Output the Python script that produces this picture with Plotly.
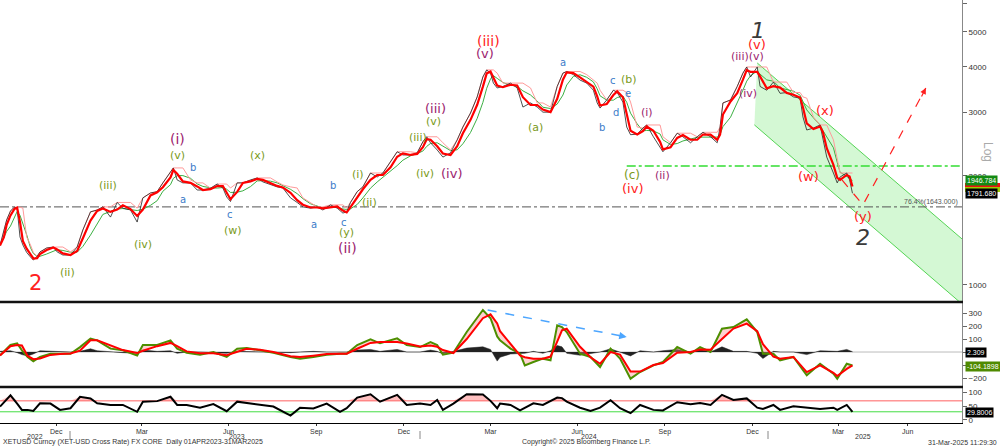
import numpy as np
import pandas as pd
import plotly.graph_objects as go

# ---------------- data ----------------
price_dates = [
    "2022-10-18", "2022-10-22", "2022-10-25", "2022-10-29", "2022-11-02", "2022-11-05", "2022-11-08", "2022-11-11",
    "2022-11-15", "2022-11-19", "2022-11-22", "2022-11-26", "2022-11-29", "2022-12-06", "2022-12-13", "2022-12-17",
    "2022-12-23", "2022-12-31",
    "2023-01-07", "2023-01-13", "2023-01-21", "2023-01-28", "2023-02-03", "2023-02-11", "2023-02-18", "2023-02-24",
    "2023-03-04", "2023-03-11", "2023-03-17", "2023-03-25", "2023-04-01", "2023-04-07", "2023-04-15", "2023-04-18",
    "2023-04-22", "2023-04-28", "2023-05-06", "2023-05-13", "2023-05-19", "2023-05-27", "2023-06-03", "2023-06-09",
    "2023-06-13", "2023-06-17", "2023-06-24", "2023-06-30", "2023-07-08", "2023-07-15", "2023-07-21", "2023-07-29",
    "2023-08-05", "2023-08-11", "2023-08-19", "2023-08-26", "2023-09-01", "2023-09-09", "2023-09-16", "2023-09-22",
    "2023-09-30", "2023-10-07", "2023-10-13", "2023-10-17", "2023-10-21", "2023-10-28", "2023-11-03", "2023-11-11",
    "2023-11-18", "2023-11-24", "2023-12-02", "2023-12-09", "2023-12-15", "2023-12-23", "2023-12-30",
    "2024-01-05", "2024-01-09", "2024-01-13", "2024-01-20", "2024-01-26", "2024-02-03", "2024-02-10", "2024-02-16",
    "2024-02-24", "2024-03-02", "2024-03-08", "2024-03-12", "2024-03-16", "2024-03-19", "2024-03-23", "2024-03-29",
    "2024-04-06", "2024-04-13", "2024-04-19", "2024-04-27", "2024-05-04", "2024-05-10", "2024-05-18", "2024-05-25",
    "2024-05-31", "2024-06-04", "2024-06-11", "2024-06-18", "2024-06-25", "2024-07-02", "2024-07-06", "2024-07-09",
    "2024-07-16", "2024-07-23", "2024-07-27", "2024-08-02", "2024-08-06", "2024-08-10", "2024-08-17", "2024-08-23",
    "2024-08-27", "2024-09-03", "2024-09-10", "2024-09-13", "2024-09-21", "2024-09-28", "2024-10-04", "2024-10-12",
    "2024-10-19", "2024-10-25", "2024-11-02", "2024-11-09", "2024-11-12", "2024-11-15", "2024-11-23", "2024-11-30",
    "2024-12-06", "2024-12-10", "2024-12-14", "2024-12-21", "2024-12-24", "2024-12-31",
    "2025-01-07", "2025-01-14", "2025-01-21", "2025-01-28", "2025-02-04", "2025-02-07", "2025-02-11", "2025-02-18",
    "2025-02-25", "2025-02-28", "2025-03-04", "2025-03-11", "2025-03-15", "2025-03-18", "2025-03-25", "2025-03-28",
    "2025-03-31",
]
price_close = [
    1285, 1420, 1512, 1600, 1640, 1630, 1357, 1290, 1230, 1195, 1172, 1200, 1234, 1265, 1273, 1234, 1210, 1210,
    1273, 1419, 1592, 1611, 1643, 1540, 1690, 1630, 1611, 1492, 1740, 1795, 1810, 1914, 2050, 2105, 1950, 1914,
    1914, 1829, 1829, 1850, 1900, 1853, 1750, 1700, 1914, 1914, 1950, 1975, 1926, 1889, 1866, 1853, 1740, 1690,
    1643, 1630, 1643, 1611, 1664, 1630, 1580, 1592, 1690, 1810, 1866, 2038, 1987, 2038, 2188, 2333, 2286, 2286, 2317,
    2486, 2566, 2470, 2360, 2255, 2317, 2516, 2730, 2985, 3307, 3754, 3926, 3846, 3610, 3500, 3534, 3610, 3500,
    3100, 3182, 3100, 3001, 3001, 3534, 3846, 3886, 3810, 3680, 3610, 3450, 3182, 3080, 3243, 3450, 3400, 3200,
    2730, 2600, 2610, 2712, 2766, 2566, 2404, 2333, 2470, 2625, 2566, 2470, 2566, 2640, 2566, 2470, 2730, 3182,
    3243, 3534, 3846, 4000, 3754, 4000, 3534, 3450,
    3634, 3383, 3400, 3307, 3281, 2910, 2679, 2712, 2766, 2516, 2255, 2038, 1914, 1987, 2038, 1950, 1791.68,
]

ind_dates = [
    "2022-10-18", "2022-10-29", "2022-11-05", "2022-11-10", "2022-11-16", "2022-11-22", "2022-11-29", "2022-12-10",
    "2022-12-20", "2022-12-31",
    "2023-01-10", "2023-01-21", "2023-01-28", "2023-02-11", "2023-02-24", "2023-03-11", "2023-03-17", "2023-04-01",
    "2023-04-15", "2023-04-22", "2023-05-02", "2023-05-16", "2023-05-30", "2023-06-13", "2023-06-24", "2023-07-04",
    "2023-07-18", "2023-08-01", "2023-08-19", "2023-08-29", "2023-09-12", "2023-09-26", "2023-10-10", "2023-10-17",
    "2023-10-28", "2023-11-11", "2023-11-21", "2023-12-09", "2023-12-19",
    "2024-01-02", "2024-01-13", "2024-01-20", "2024-01-26", "2024-02-06", "2024-02-20", "2024-03-08", "2024-03-16",
    "2024-03-23", "2024-03-26", "2024-04-06", "2024-04-16", "2024-04-21", "2024-04-30", "2024-05-10", "2024-05-18",
    "2024-05-25", "2024-05-30", "2024-06-04", "2024-06-18", "2024-06-29", "2024-07-09", "2024-07-20", "2024-07-30",
    "2024-08-10", "2024-08-20", "2024-09-03", "2024-09-13", "2024-09-28", "2024-10-12", "2024-10-22", "2024-11-02",
    "2024-11-14", "2024-11-26", "2024-12-10", "2024-12-21", "2024-12-27",
    "2025-01-07", "2025-01-14", "2025-01-28", "2025-02-11", "2025-02-25", "2025-03-11", "2025-03-15", "2025-03-25",
    "2025-03-31",
]
macd_line = [
    -26, 54, 67, 13, -38, -72, -38, -13, -13, -13,
    38, 103, 90, 26, 13, -26, 54, 54, 90, 26, -5, -21, 0, -38, 26, 31, 13, -5, -38, -51, -38, -21, -13, -13,
    54, 97, 67, 105, 54,
    38, 77, 54, -21, -5, 154, 323, 260, 120, 90, 26, -13, -103, -77, -51, -64, 205, 192, 154, -13, -38, -115,
    26, -51, -205, -154, -103, -77, 38, -13, 38, 0, 179, 192, 251, 154, -13,
    -13, -64, -38, -179, -90, -167, -205, -90, -104.19,
]
macd_signal = [
    -26, 45, 54, 50, -30, -55, -50, -22, -15, -12,
    10, 90, 90, 50, 15, -8, 10, 45, 70, 45, 5, -10, -10, -25, 0, 25, 18, 0, -33, -38, -28, -16, -13, -13,
    25, 70, 77, 77, 65,
    42, 50, 40, 15, -8, 100, 260, 290, 220, 160, 60, -26, -40, -51, -51, -35, 80, 167, 179, 40, -40, -90,
    0, -20, -150, -150, -100, -85, -5, 0, 20, 18, 100, 180, 218, 160, 60,
    -35, -51, -38, -154, -103, -160, -185, -130, -103,
]
macd_hist = [
    5, 10, -5, -20, -30, -15, 10, 5, 0, 0,
    5, 25, 10, 0, -5, -10, 15, 5, 10, -10, 0, 0, -5, -10, 5, 3, 0, 0, -5, 0, 5, 0, 0, 0,
    15, 20, 5, 20, 0,
    0, 15, 5, -15, 5, 30, 40, 20, -70, -40, -15, -10, -10, 5, -10, 10, 50, 40, -10, -25, -10, 0,
    25, 0, -30, 10, 0, 10, 20, 0, 20, 0, 40, 5, 5, -10, -50,
    5, 0, 0, -20, 10, 5, 5, 20, 2.309,
]
rsi_values = [
    49, 90, 60, 37, 37, 33, 61, 60, 37, 43,
    85, 79, 61, 55, 55, 30, 67, 69, 85, 55, 55, 45, 58, 32, 67, 63, 55, 49, 16, 45, 42, 60, 30, 43,
    82, 94, 67, 92, 55,
    60, 55, 73, 37, 60, 94, 93, 70, 43, 60, 55, 35, 45, 61, 55, 70, 82, 80, 67, 45, 33, 45,
    72, 43, 25, 55, 37, 35, 65, 58, 62, 55, 92, 73, 79, 45, 40,
    55, 37, 50, 45, 40, 45, 37, 55, 29.8006,
]

fib_level = 1643.0
support_level = 2130.0
channel_upper_dates = ["2024-12-21", "2025-07-24"]
channel_upper = [4103, 1340]
channel_lower_dates = ["2024-12-18", "2025-07-24"]
channel_lower = [2768, 886]
proj_dates = ["2025-03-20", "2025-04-11", "2025-06-16"]
proj_values = [1950, 1664, 3500]
div_dates = ["2024-03-13", "2024-08-06"]
div_values = [323, 115]

month_tick_dates = ["2022-12-16", "2023-03-16", "2023-06-15", "2023-09-15", "2023-12-16", "2024-03-16",
                    "2024-06-15", "2024-09-15", "2024-12-16", "2025-03-16", "2025-05-28"]
month_tick_labels = ["Dec", "Mar", "Jun", "Sep", "Dec", "Mar", "Jun", "Sep", "Dec", "Mar", "Jun"]
year_labels = ["2022", "2023", "2024", "2025"]

X_START, X_END = "2022-10-18", "2025-07-24"

# ---------------- derived moving averages ----------------
close_s = pd.Series(price_close)
ma_fast = close_s.rolling(2, min_periods=1).mean()
ma_slow = close_s.rolling(4, min_periods=1).mean()
ma_high = close_s.rolling(3, min_periods=1).max()

fig = go.Figure()

# channel
fig.add_trace(go.Scatter(
    x=channel_upper_dates + channel_lower_dates[::-1],
    y=channel_upper + channel_lower[::-1],
    fill="toself", fillcolor="rgba(160,240,160,0.45)", line=dict(width=0),
    mode="lines", hoverinfo="skip", yaxis="y"))
for cx, cy in ((channel_upper_dates, channel_upper), (channel_lower_dates, channel_lower)):
    fig.add_trace(go.Scatter(x=cx, y=cy, mode="lines", line=dict(color="#55d455", width=1), yaxis="y"))

# levels
fig.add_trace(go.Scatter(x=[X_START, X_END], y=[fib_level, fib_level], mode="lines",
                         line=dict(color="#555555", width=1, dash="dashdot"), yaxis="y"))
fig.add_trace(go.Scatter(x=["2024-08-06", X_END], y=[support_level, support_level], mode="lines",
                         line=dict(color="#33dd33", width=1.5, dash="dashdot"), yaxis="y"))

# price and averages
fig.add_trace(go.Scatter(x=price_dates, y=ma_slow, mode="lines", line=dict(color="#3cb043", width=1), yaxis="y"))
fig.add_trace(go.Scatter(x=price_dates, y=ma_high, mode="lines", line=dict(color="#ff9a9a", width=1), yaxis="y"))
fig.add_trace(go.Scatter(x=price_dates, y=price_close, mode="lines", line=dict(color="#222222", width=0.8), yaxis="y"))
fig.add_trace(go.Scatter(x=price_dates, y=ma_fast, mode="lines", line=dict(color="#ff0000", width=2.2), yaxis="y"))

# projection
fig.add_trace(go.Scatter(x=proj_dates, y=proj_values, mode="lines",
                         line=dict(color="#ff2020", width=1.2, dash="dash"), yaxis="y"))

# MACD panel
fig.add_trace(go.Scatter(x=[X_START, X_END], y=[0, 0], mode="lines", line=dict(color="#bbbbbb", width=1), yaxis="y2"))
fig.add_trace(go.Scatter(x=ind_dates, y=macd_hist, mode="lines", fill="tozeroy", fillcolor="#222222",
                         line=dict(color="#222222", width=0.5), yaxis="y2"))
fig.add_trace(go.Scatter(x=ind_dates, y=macd_line, mode="lines", line=dict(color="#4d8f00", width=2), yaxis="y2"))
fig.add_trace(go.Scatter(x=ind_dates, y=macd_signal, mode="lines", fill="tonexty",
                         fillcolor="rgba(255,140,140,0.4)", line=dict(color="#ff0000", width=2), yaxis="y2"))
fig.add_trace(go.Scatter(x=div_dates, y=div_values, mode="lines",
                         line=dict(color="#4da6ff", width=1.5, dash="dash"), yaxis="y2"))

# RSI panel
rsi_arr = np.array(rsi_values, dtype=float)
fig.add_trace(go.Scatter(x=ind_dates, y=[70] * len(ind_dates), mode="lines", line=dict(width=0), yaxis="y3"))
fig.add_trace(go.Scatter(x=ind_dates, y=np.maximum(rsi_arr, 70), mode="lines", fill="tonexty",
                         fillcolor="rgba(255,150,150,0.6)", line=dict(width=0), yaxis="y3"))
fig.add_trace(go.Scatter(x=ind_dates, y=[30] * len(ind_dates), mode="lines", line=dict(width=0), yaxis="y3"))
fig.add_trace(go.Scatter(x=ind_dates, y=np.minimum(rsi_arr, 30), mode="lines", fill="tonexty",
                         fillcolor="rgba(140,230,140,0.6)", line=dict(width=0), yaxis="y3"))
fig.add_trace(go.Scatter(x=[X_START, X_END], y=[70, 70], mode="lines", line=dict(color="#ff6060", width=1), yaxis="y3"))
fig.add_trace(go.Scatter(x=[X_START, X_END], y=[30, 30], mode="lines", line=dict(color="#44dd44", width=1), yaxis="y3"))
fig.add_trace(go.Scatter(x=ind_dates, y=rsi_values, mode="lines", line=dict(color="#000000", width=2), yaxis="y3"))

# ---------------- layout ----------------
W, H = 1000, 446
def px(x):
    return x / W
def py(y):
    return 1 - y / H

tickfont = dict(family="Liberation Sans, Arial", size=8, color="#333333")
fig.update_layout(
    width=W, height=H, margin=dict(l=0, r=0, t=0, b=0, autoexpand=False),
    paper_bgcolor="white", plot_bgcolor="white", showlegend=False,
    xaxis=dict(domain=[0, 0.962], anchor="y3", type="date", range=[X_START, X_END], automargin=False,
               tickmode="array", tickvals=month_tick_dates, ticktext=month_tick_labels,
               ticks="outside", ticklen=2, tickcolor="#333", showgrid=False, zeroline=False,
               showline=True, linecolor="#000", linewidth=1,
               tickfont=dict(family="Liberation Sans, Arial", size=7, color="#333")),
    yaxis=dict(domain=[py(302), 1], anchor="x", type="log", range=[2.953, 3.787], side="right", automargin=False,
               tickmode="array", tickvals=[1000, 2000, 3000, 4000, 5000, 6000],
               ticktext=["1000", "2000", "3000", "4000", "5000", "6000"],
               ticks="outside", ticklen=4, tickcolor="#666", showgrid=False, zeroline=False,
               showline=True, linecolor="#888", tickfont=tickfont),
    yaxis2=dict(domain=[py(387), py(303)], anchor="x", range=[-269, 377], side="right", automargin=False,
                tickmode="array", tickvals=[-200, -100, 0, 100, 200, 300],
                ticks="outside", ticklen=4, tickcolor="#666", showgrid=False, zeroline=False,
                showline=True, linecolor="#888", tickfont=tickfont),
    yaxis3=dict(domain=[py(423), py(388)], anchor="x", range=[-11, 117], side="right", automargin=False,
                tickmode="array", tickvals=[0, 50, 100],
                ticks="outside", ticklen=4, tickcolor="#666", showgrid=False, zeroline=False,
                showline=True, linecolor="#888", tickfont=tickfont),
)

shapes = []
for yy in (302, 387):
    shapes.append(dict(type="line", xref="paper", yref="paper", x0=0, x1=0.963, y0=py(yy), y1=py(yy),
                       line=dict(color="#111", width=2.5)))
for xx in (70, 420, 768):
    shapes.append(dict(type="line", xref="paper", yref="paper", x0=px(xx), x1=px(xx), y0=py(431), y1=py(439),
                       line=dict(color="#888", width=1)))
# partly hidden value boxes (main panel)
shapes.append(dict(type="rect", xref="paper", yref="paper", x0=0.965, x1=1.0, y0=py(190), y1=py(183),
                   fillcolor="#ee1111", line=dict(width=0)))
shapes.append(dict(type="rect", xref="paper", yref="paper", x0=0.965, x1=1.0, y0=py(192), y1=py(187),
                   fillcolor="#99cc00", line=dict(width=0)))
fig.update_layout(shapes=shapes)

PURPLE = "#9b1c6e"
OLIVE = "#7a9a1a"
BLUE = "#3d7cc9"
RED = "#ff2020"
DARK = "#3a3a3a"
wave_labels = [
    (35, 283, "2", RED, 21), (67, 272, "(ii)", OLIVE, 11), (108, 185, "(iii)", OLIVE, 11),
    (143, 244, "(iv)", OLIVE, 11), (177, 155, "(v)", OLIVE, 11), (177, 139, "(i)", PURPLE, 14),
    (193, 167, "b", BLUE, 10), (183, 200, "a", BLUE, 10), (230, 215, "c", BLUE, 10),
    (233, 230, "(w)", OLIVE, 11), (257, 155, "(x)", OLIVE, 11), (314, 224, "a", BLUE, 10),
    (333, 185, "b", BLUE, 10), (344, 222, "c", BLUE, 10), (346, 233, "(y)", OLIVE, 11),
    (347, 248, "(ii)", PURPLE, 14), (358, 174, "(i)", OLIVE, 11), (369, 202, "(ii)", OLIVE, 11),
    (418, 137, "(iii)", OLIVE, 11), (425, 173, "(iv)", OLIVE, 11), (451, 173, "(iv)", PURPLE, 13),
    (435, 108, "(iii)", PURPLE, 13), (433, 121, "(v)", OLIVE, 11), (488, 41, "(iii)", RED, 14),
    (485, 53, "(v)", PURPLE, 13), (563, 63, "a", BLUE, 10), (535, 127, "(a)", OLIVE, 11),
    (602, 128, "b", BLUE, 10), (613, 81, "c", BLUE, 10), (629, 80, "(b)", OLIVE, 11),
    (628, 93, "e", BLUE, 10), (616, 113, "d", BLUE, 10), (647, 113, "(i)", PURPLE, 11),
    (632, 175, "(c)", OLIVE, 12), (632, 188, "(iv)", RED, 13), (662, 175, "(ii)", PURPLE, 11),
    (757, 45, "(v)", RED, 13), (747, 56, "(iii)(v)", PURPLE, 11), (748, 94, "(iv)", PURPLE, 11),
    (825, 110, "(x)", RED, 13), (808, 177, "(w)", RED, 13), (863, 217, "(y)", RED, 13),
]
ann = []
for (x, y, t, c, s) in wave_labels:
    ann.append(dict(x=px(x), y=py(y), xref="paper", yref="paper", text=t, showarrow=False,
                    font=dict(family="DejaVu Sans", size=s, color=c), xanchor="center", yanchor="middle"))
for (x, y, t) in ((758, 31, "1"), (863, 237, "2")):
    ann.append(dict(x=px(x), y=py(y), xref="paper", yref="paper", text="<i>" + t + "</i>", showarrow=False,
                    font=dict(family="DejaVu Sans", size=22, color=DARK), xanchor="center", yanchor="middle"))

ann.append(dict(x=px(960), y=py(202), xref="paper", yref="paper", text="76.4%(1643.000)", showarrow=False,
                font=dict(family="Liberation Sans", size=7, color="#555"), xanchor="right", yanchor="middle"))
ann.append(dict(x=px(988), y=py(152), xref="paper", yref="paper", text="Log", showarrow=False, textangle=90,
                font=dict(family="Liberation Sans", size=12, color="#aaaaaa"), xanchor="center", yanchor="middle"))

# arrowheads
ann.append(dict(x=proj_dates[-1], y=np.log10(proj_values[-1]), xref="x", yref="y", text="", showarrow=True,
                ax=-5, ay=10, arrowhead=2, arrowsize=1, arrowwidth=1.2, arrowcolor="#ff2020"))
ann.append(dict(x=div_dates[-1], y=div_values[-1], xref="x", yref="y2", text="", showarrow=True,
                ax=-10, ay=-2, arrowhead=2, arrowsize=1, arrowwidth=1.5, arrowcolor="#4da6ff"))

# value boxes
def box(y, text, bg):
    return dict(x=0.9645, y=py(y), xref="paper", yref="paper", text=text, showarrow=False,
                font=dict(family="Liberation Sans", size=7, color="white"), bgcolor=bg,
                xanchor="left", yanchor="middle", borderpad=1)
ann.append(box(180, "1946.784", "#138a13"))
ann.append(box(194, "1791.680", "#000000"))
ann.append(box(352, "2.309", "#000000"))
ann.append(box(366, "-104.1898", "#4f8a00"))
ann.append(box(412, "29.8006", "#000000"))

# year labels and footer
for (x, t) in zip((35, 237, 589, 863), year_labels):
    ann.append(dict(x=px(x), y=py(436), xref="paper", yref="paper", text=t, showarrow=False,
                    font=dict(family="Liberation Sans", size=7, color="#333"), xanchor="center", yanchor="middle"))
foot = dict(family="Liberation Sans", size=7, color="#333")
ann.append(dict(x=0.001, y=py(442), xref="paper", yref="paper", showarrow=False, font=foot,
                text="XETUSD Curncy (XET-USD Cross Rate) FX CORE  Daily 01APR2023-31MAR2025",
                xanchor="left", yanchor="middle"))
ann.append(dict(x=px(586), y=py(442), xref="paper", yref="paper", showarrow=False, font=foot,
                text="Copyright© 2025 Bloomberg Finance L.P.", xanchor="center", yanchor="middle"))
ann.append(dict(x=0.999, y=py(442), xref="paper", yref="paper", showarrow=False, font=foot,
                text="31-Mar-2025 11:29:30", xanchor="right", yanchor="middle"))
fig.update_layout(annotations=ann)

fig.write_html("out.html", config={"displayModeBar": False},
               post_script="document.body.style.margin='0px';document.body.style.overflow='hidden';")
